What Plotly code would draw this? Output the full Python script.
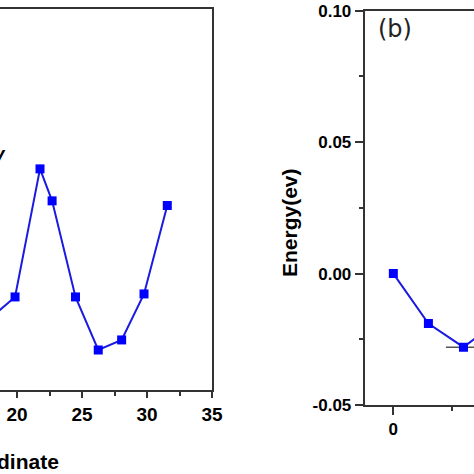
import plotly.graph_objects as go

W = H = 474

# Panel (a) data (left, partially visible)
left_x = [18.1, 19.85, 21.77, 22.7, 24.5, 26.25, 28.05, 29.77, 31.56]
left_y = [0.27, 0.342, 0.8125, 0.695, 0.342, 0.147, 0.184, 0.353, 0.678]
left_xticks = [20, 25, 30, 35]

# Panel (b) data (right, partially visible)
right_x = [0.0, 0.3, 0.6, 0.9]
right_y = [0.0, -0.019, -0.028, -0.018]
right_yticks = [-0.05, 0.00, 0.05, 0.10]
right_yticktext = ["-0.05", "0.00", "0.05", "0.10"]
ref_x = [0.45, 0.8]
ref_y = [-0.028, -0.028]

def px(x):
    return x / W

def py(y):
    return 1 - y / H

line_col = "#1a1ae0"
mark_col = "#0000ff"
axis_col = "#333333"
tickfont = dict(family="Arial", size=19, color="black", weight="bold")
tickfont2 = dict(family="Arial", size=17, color="black", weight="bold")

fig = go.Figure()
fig.add_trace(go.Scatter(x=left_x, y=left_y, mode="lines+markers",
                         line=dict(color=line_col, width=2),
                         marker=dict(symbol="square", size=9, color=mark_col),
                         xaxis="x", yaxis="y", showlegend=False, cliponaxis=True))
fig.add_trace(go.Scatter(x=ref_x, y=ref_y, mode="lines",
                         line=dict(color="#555555", width=1.5),
                         xaxis="x2", yaxis="y2", showlegend=False))
fig.add_trace(go.Scatter(x=right_x, y=right_y, mode="lines+markers",
                         line=dict(color=line_col, width=2),
                         marker=dict(symbol="square", size=9, color=mark_col),
                         xaxis="x2", yaxis="y2", showlegend=False))

fig.update_layout(
    width=W, height=H, margin=dict(l=0, r=0, t=0, b=0, pad=0, autoexpand=False),
    autosize=False,
    paper_bgcolor="white", plot_bgcolor="white",
    xaxis=dict(domain=[0, px(212)], range=[20 - 17 / 13, 35], automargin=False,
               tickvals=left_xticks, ticks="outside", ticklen=6, tickwidth=1.5,
               tickcolor=axis_col, showline=True, linecolor=axis_col, linewidth=2,
               mirror=True, showgrid=False, zeroline=False, tickfont=tickfont,
               minor=dict(dtick=2.5, tick0=0, ticks="outside", ticklen=4,
                          tickcolor=axis_col, tickwidth=1.5),
               anchor="y"),
    yaxis=dict(domain=[py(390), py(9)], range=[0, 1.4], side="right", automargin=False,
               showline=True, linecolor=axis_col, linewidth=2,
               showticklabels=False, ticks="", showgrid=False, zeroline=False,
               anchor="x"),
    xaxis2=dict(domain=[px(364.7), 1], range=[-0.245, 0.69], automargin=False,
                tickvals=[0], ticks="outside", ticklen=8, tickwidth=1.5,
                tickcolor=axis_col, showline=True, linecolor=axis_col, linewidth=2,
                mirror=True, showgrid=False, zeroline=False, tickfont=tickfont2,
                minor=dict(dtick=0.5, tick0=0, ticks="outside", ticklen=4,
                           tickcolor=axis_col, tickwidth=1.5),
                anchor="y2"),
    yaxis2=dict(domain=[py(405), py(10.7)], range=[-0.05, 0.10], automargin=False,
                tickvals=right_yticks, ticktext=right_yticktext,
                ticks="outside", ticklen=8, tickwidth=1.5, tickcolor=axis_col,
                showline=True, linecolor=axis_col, linewidth=2,
                showgrid=False, zeroline=False, tickfont=tickfont2,
                minor=dict(dtick=0.025, tick0=0, ticks="outside", ticklen=4,
                           tickcolor=axis_col, tickwidth=1.5),
                anchor="x2"),
    annotations=[
        dict(text="Reaction coordinate", x=px(61), y=py(461), xref="paper", yref="paper",
             xanchor="right", yanchor="middle", showarrow=False,
             font=dict(family="Arial", size=21, color="black", weight="bold")),
        dict(text="<i>eV</i>", x=px(8), y=py(157), xref="paper", yref="paper",
             xanchor="right", yanchor="middle", showarrow=False,
             font=dict(family="Arial", size=18, color="black", weight="bold")),
        dict(text="Energy(ev)", x=px(289), y=py(223), xref="paper", yref="paper",
             xanchor="center", yanchor="middle", textangle=-90, showarrow=False,
             font=dict(family="Arial", size=21, color="black", weight="bold")),
        dict(text="(b)", x=px(395), y=py(29), xref="paper", yref="paper",
             xanchor="center", yanchor="middle", showarrow=False,
             font=dict(family="DejaVu Sans", size=24, color="#222222")),
    ],
)

fig.write_html("out.html", config={"responsive": False, "displayModeBar": False})
